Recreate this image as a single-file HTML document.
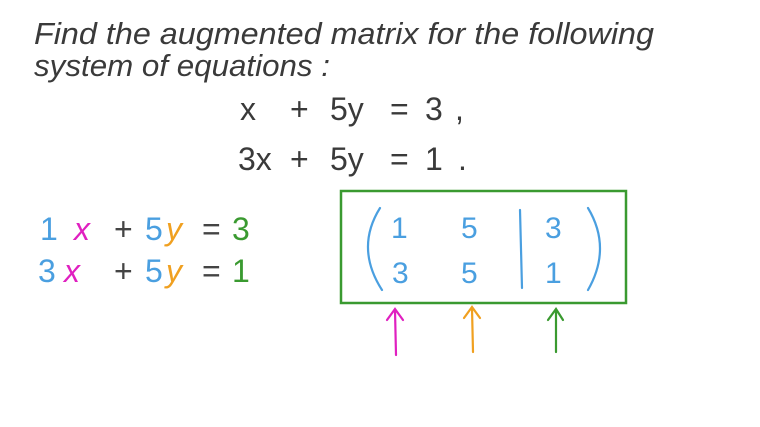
<!DOCTYPE html>
<html><head><meta charset="utf-8"><style>
html,body{margin:0;padding:0;background:#fff;}
svg{display:block;}
text{font-family:"Liberation Sans",sans-serif;}
</style></head><body>
<svg width="760" height="427" viewBox="0 0 760 427" xmlns="http://www.w3.org/2000/svg">
<rect width="760" height="427" fill="#fff"/>
<g fill="#3a3a3a" font-style="italic">
<text x="34" y="44" font-size="31" textLength="620" lengthAdjust="spacingAndGlyphs">Find the augmented matrix for the following</text>
<text x="34" y="76" font-size="31" textLength="296" lengthAdjust="spacingAndGlyphs">system of equations :</text>
</g>
<g fill="#3a3a3a" font-size="32">
<text x="240" y="120">x</text><text x="290" y="120">+</text><text x="330" y="120">5y</text><text x="390" y="120">=</text><text x="425" y="120">3</text><text x="455" y="120">,</text>
<text x="238" y="170">3x</text><text x="290" y="170">+</text><text x="330" y="170">5y</text><text x="390" y="170">=</text><text x="425" y="170">1</text><text x="458" y="170">.</text>
</g>
<g font-size="32">
<text x="40" y="240" fill="#4a9fe0">1</text>
<text x="74" y="240" fill="#e020c0" font-style="italic">x</text>
<text x="114" y="240" fill="#444">+</text>
<text x="145" y="240" fill="#4a9fe0">5</text>
<text x="166" y="240" fill="#f0a020" font-style="italic">y</text>
<text x="202" y="240" fill="#444">=</text>
<text x="232" y="240" fill="#3a9a30">3</text>
<text x="38" y="282" fill="#4a9fe0">3</text>
<text x="64" y="282" fill="#e020c0" font-style="italic">x</text>
<text x="114" y="282" fill="#444">+</text>
<text x="145" y="282" fill="#4a9fe0">5</text>
<text x="166" y="282" fill="#f0a020" font-style="italic">y</text>
<text x="202" y="282" fill="#444">=</text>
<text x="232" y="282" fill="#3a9a30">1</text>
</g>
<rect x="341" y="191" width="285" height="112" fill="none" stroke="#3a9a30" stroke-width="2.5"/>
<g fill="none" stroke="#4a9fe0" stroke-width="2.2" stroke-linecap="round">
<path d="M380 208 Q355 248 382 290"/>
<path d="M588 208 Q612 248 588 290"/>
<path d="M520 210 L522 288"/>
</g>
<g font-size="30" fill="#4a9fe0">
<text x="391" y="238">1</text>
<text x="461" y="238">5</text>
<text x="545" y="238">3</text>
<text x="392" y="283">3</text>
<text x="461" y="283">5</text>
<text x="545" y="283">1</text>
</g>
<g fill="none" stroke-width="2.2" stroke-linecap="round">
<path d="M396 355 L395 310 M387 320 L395 309 L403 320" stroke="#e020c0"/>
<path d="M473 352 L472 308 M464 318 L472 307 L480 318" stroke="#f0a020"/>
<path d="M556 352 L556 310 M548 320 L556 309 L563 320" stroke="#3a9a30"/>
</g>
</svg>
</body></html>
